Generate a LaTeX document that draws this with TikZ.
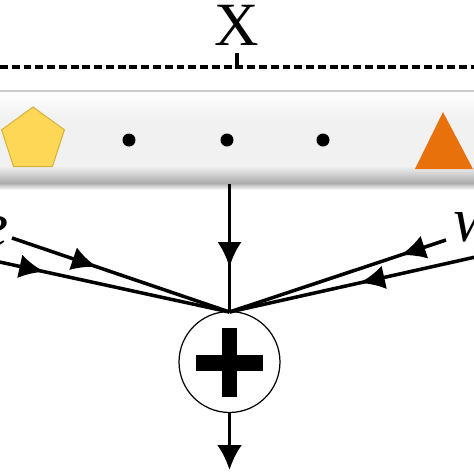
\documentclass[tikz,border=0pt]{standalone}
\usepackage{fontspec}
\usepackage{tikz}
\usetikzlibrary{arrows.meta,decorations.markings,shapes.geometric}
\newfontfamily\figfont{Liberation Serif}
\definecolor{pentafill}{HTML}{FDD755}
\definecolor{pentaline}{HTML}{D8B23E}
\definecolor{trifill}{HTML}{E8710C}

\begin{document}
\begin{tikzpicture}
  [x=0.02cm,y=-0.02cm,every node/.style={inner sep=0pt},
   wire/.style={line width=2pt},
   midarrow/.style={postaction={decorate},decoration={markings,
     mark=at position #1 with {\arrow{Latex[length=5mm,width=4.8mm]}}}}]
  \useasboundingbox[fill=white] (0,0) rectangle (474,474);

  % the bar
  \fill[gray!11] (0,118) rectangle (474,166);
  \shade[top color=white,bottom color=gray!11] (0,92) rectangle (474,118);
  \shade[top color=gray!11,bottom color=gray!65] (0,166) rectangle (474,183);
  \shade[top color=gray!65,bottom color=white] (0,183) rectangle (474,190);
  \draw[gray!40,line width=0.8pt] (0,91) -- (474,91);

  \node[font=\figfont\fontsize{35}{35}\selectfont] (xlabel) at (237,25) {X};
  \draw[line width=2.2pt,dash pattern=on 4.5pt off 2.2pt] (0,67) -- (474,67);
  \draw[line width=2pt] (237,53) -- (237,67);

  \node[regular polygon,regular polygon sides=5,minimum size=1.32cm,
        fill=pentafill,draw=pentaline,line width=0.6pt] (penta) at (33,140) {};
  \foreach \i/\x in {1/129,2/227,3/323}
    \node[circle,fill,minimum size=0.26cm] (d\i) at (\x,140) {};
  \fill[trifill] (443,112) -- (415,169) -- (473,169) -- cycle;

  \node[font=\figfont\itshape\fontsize{36}{36}\selectfont,anchor=east] (elabel) at (9,232) {e};
  \node[font=\figfont\itshape\fontsize{36}{36}\selectfont,anchor=west] (wlabel) at (453,227) {w};

  \coordinate (j) at (229.5,312);
  \coordinate (xb) at (229.5,184);
  \coordinate (e1) at (12,238);
  \coordinate (e2) at (-5,261);
  \coordinate (w1) at (446,240);
  \coordinate (w2) at (480,256);
  \coordinate (out) at (229.5,470);

  \node[circle,draw,line width=0.7pt,minimum size=2.02cm] (sum) at (229.5,362) {};
  \fill (196,355) rectangle (263,371);
  \fill (222,328) rectangle (237,397);

  \foreach \from/\pos in {e1/0.39,e2/0.21,w1/0.21,w2/0.48,xb/0.65}
    \draw[wire,midarrow=\pos] (\from) -- (j);
  \draw[wire,-{Latex[length=5mm,width=5mm]}] (sum) -- (out);
\end{tikzpicture}
\end{document}
